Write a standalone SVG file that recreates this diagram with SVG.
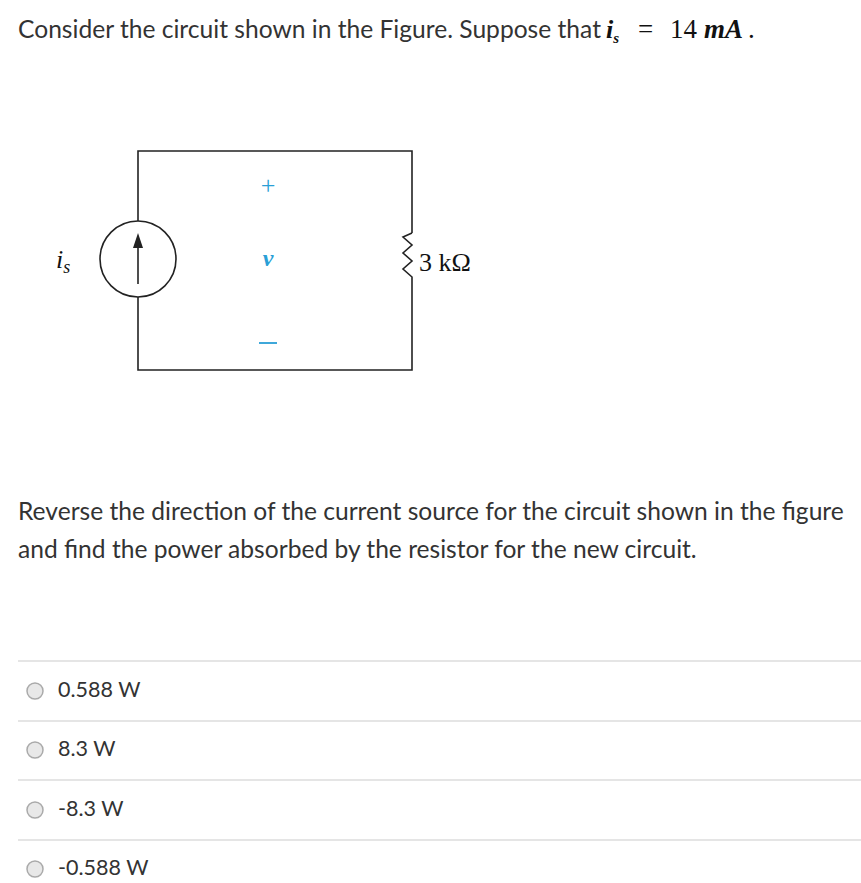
<svg xmlns="http://www.w3.org/2000/svg" width="861" height="883" viewBox="0 0 861 883">
<style>
.t{font-family:Lato,"Liberation Sans",sans-serif;font-size:24.6px;fill:#333}
.o{font-family:Lato,"Liberation Sans",sans-serif;font-size:21.5px;fill:#333}
.w{stroke:#222;stroke-width:1.6;fill:none}
.m{font-family:"Liberation Serif",serif;fill:#111}
.b{font-family:"Liberation Serif",serif;fill:#2a9fd6}
.sep{stroke:#ddd;stroke-width:1.5}
.r{fill:#e8e8e8;stroke:#aaa;stroke-width:1.5}
</style>
<rect width="861" height="883" fill="#fff"/>
<text class="t" x="18" y="38">Consider the circuit shown in the Figure. Suppose that</text>
<text class="m" x="606" y="38" font-size="26" font-style="italic" font-weight="bold">i<tspan font-size="15" dy="5">s</tspan></text>
<text class="m" x="638" y="38" font-size="27">=</text>
<text class="m" x="670" y="38" font-size="27">14</text>
<text class="m" x="704" y="38" font-size="27" font-style="italic" font-weight="bold">mA</text>
<text class="m" x="748" y="38" font-size="27">.</text>
<g id="wires">
<path class="w" d="M138 221V151H412V233M412 282V370H138V297"/>
<path class="w" d="M412 233l-9 4l9 8l-9 8l9 8l-9 8l9 8l0 5"/>
</g>
<g id="source">
<circle class="w" cx="138" cy="259" r="38"/>
<line class="w" x1="138" y1="284" x2="138" y2="240"/>
<path d="M138 233l-5 15h10z" fill="#222"/>
<text class="m" x="56" y="268" font-size="26" font-style="italic">i<tspan font-size="18" dy="5">s</tspan></text>
</g>
<g id="resistor"><text class="m" x="419" y="271" font-size="26">3 kΩ</text></g>
<g id="voltage">
<text class="b" x="268" y="194" font-size="26" text-anchor="middle">+</text>
<text class="b" x="268" y="266" font-size="24" font-style="italic" font-weight="bold" text-anchor="middle">v</text>
<line x1="259" y1="343" x2="277" y2="343" stroke="#2a9fd6" stroke-width="1.8"/>
</g>
<text class="t" x="18" y="520">Reverse the direction of the current source for the circuit shown in the figure</text>
<text class="t" x="18" y="558">and find the power absorbed by the resistor for the new circuit.</text>
<g id="options">
<line class="sep" x1="18" y1="661" x2="861" y2="661"/>
<line class="sep" x1="18" y1="721" x2="861" y2="721"/>
<line class="sep" x1="18" y1="780" x2="861" y2="780"/>
<line class="sep" x1="18" y1="840" x2="861" y2="840"/>
<circle class="r" cx="35" cy="691" r="8"/><text class="o" x="58" y="697">0.588 W</text>
<circle class="r" cx="35" cy="750" r="8"/><text class="o" x="58" y="756">8.3 W</text>
<circle class="r" cx="35" cy="810" r="8"/><text class="o" x="58" y="816">-8.3 W</text>
<circle class="r" cx="35" cy="869" r="8"/><text class="o" x="58" y="875">-0.588 W</text>
</g>
</svg>
